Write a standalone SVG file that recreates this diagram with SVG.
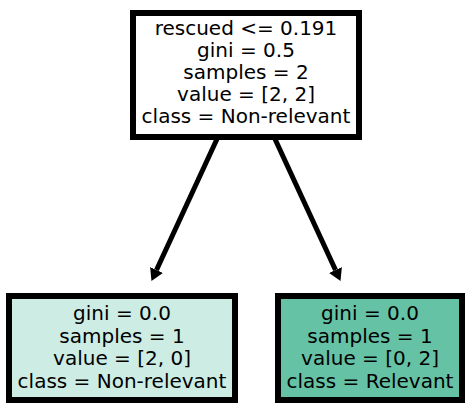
<svg xmlns="http://www.w3.org/2000/svg" width="474" height="413" viewBox="0 0 474 413">
<defs>
<style>
.box{stroke:#000;stroke-width:6}
.t{font-family:"DejaVu Sans",sans-serif;font-size:20px;fill:#000;text-anchor:middle}
.edge{stroke:#000;stroke-width:5;fill:none}
</style>
<marker id="ah" markerUnits="userSpaceOnUse" markerWidth="12" markerHeight="14" refX="0" refY="7" orient="auto" viewBox="0 0 12 14">
<path d="M0,0 L12,7 L0,14 z" fill="#000"/>
</marker>
</defs>
<rect width="474" height="413" fill="#fff"/>
<g id="edges">
<line class="edge" x1="217" y1="139" x2="156.5" y2="270" marker-end="url(#ah)"/>
<line class="edge" x1="275" y1="139" x2="335.5" y2="270" marker-end="url(#ah)"/>
</g>
<g id="root">
<rect class="box" x="133" y="13" width="226" height="124" fill="#fff"/>
<text class="t" x="246" y="35">rescued &lt;= 0.191</text>
<text class="t" x="246" y="57">gini = 0.5</text>
<text class="t" x="246" y="79">samples = 2</text>
<text class="t" x="246" y="101">value = [2, 2]</text>
<text class="t" x="246" y="123">class = Non-relevant</text>
</g>
<g id="leaf-left">
<rect class="box" x="9" y="296" width="226" height="104" fill="#cdede4"/>
<text class="t" x="122" y="320">gini = 0.0</text>
<text class="t" x="122" y="342.5">samples = 1</text>
<text class="t" x="122" y="365">value = [2, 0]</text>
<text class="t" x="122" y="387.5">class = Non-relevant</text>
</g>
<g id="leaf-right">
<rect class="box" x="278" y="296" width="184" height="104" fill="#66c2a5"/>
<text class="t" x="370" y="320">gini = 0.0</text>
<text class="t" x="370" y="342.5">samples = 1</text>
<text class="t" x="370" y="365">value = [0, 2]</text>
<text class="t" x="370" y="387.5">class = Relevant</text>
</g>
</svg>
